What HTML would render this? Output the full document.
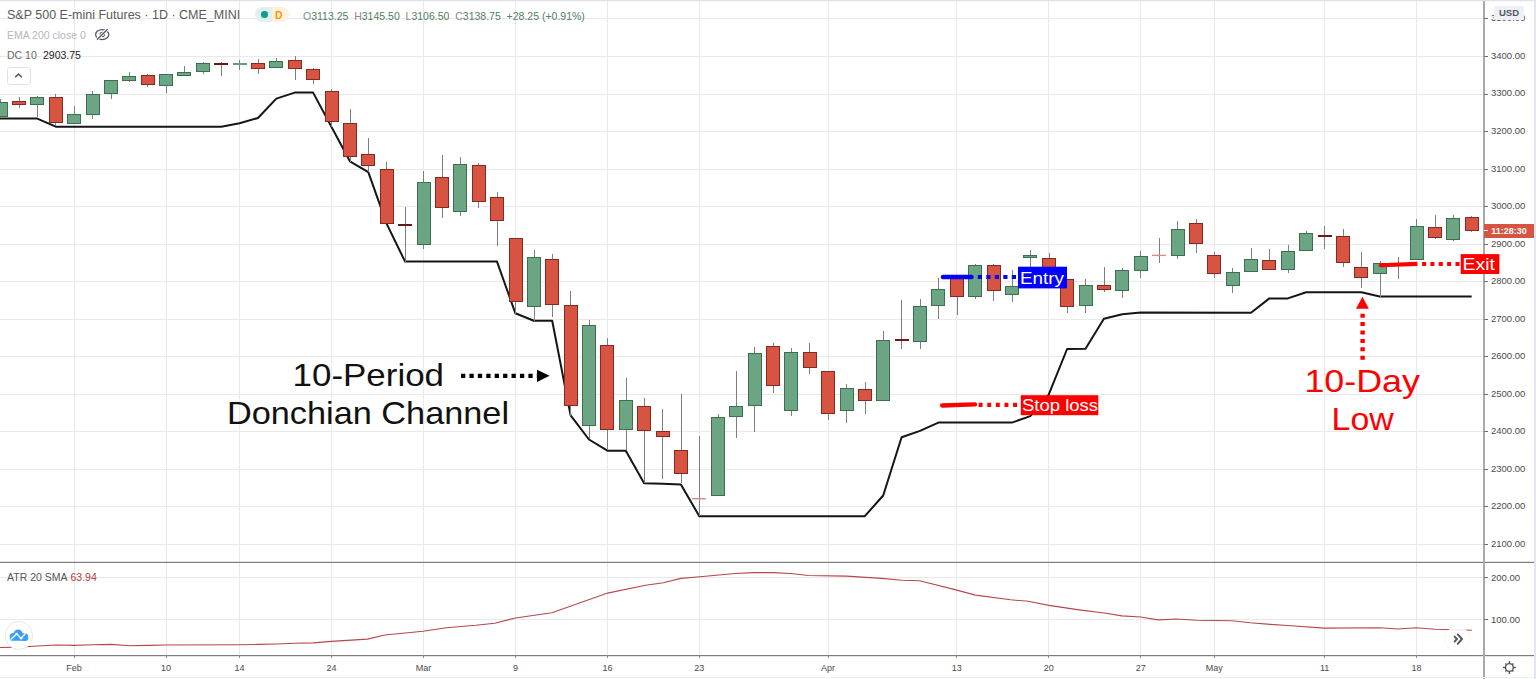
<!DOCTYPE html>
<html><head><meta charset="utf-8">
<style>
html,body{margin:0;padding:0;background:#fff;}
body{width:1536px;height:679px;position:relative;overflow:hidden;font-family:"Liberation Sans",sans-serif;}
#chart{position:absolute;left:0;top:0;}
.pl{position:absolute;left:1491px;font-size:9.5px;color:#4a4a4a;height:12px;line-height:12px;white-space:nowrap;}
.tick{position:absolute;left:1484px;width:4px;height:1px;background:#707070;}
.dl{position:absolute;top:662px;width:40px;text-align:center;font-size:9px;color:#4a4a4a;line-height:12px;}
.dtick{position:absolute;top:655px;width:1px;height:3px;background:#8a8a8a;}
.t{position:absolute;white-space:nowrap;}
</style></head><body>
<svg id="chart" width="1536" height="679">
<line x1="0" y1="544.5" x2="1484" y2="544.5" stroke="#e9e9e9" stroke-width="1"/>
<line x1="0" y1="506.5" x2="1484" y2="506.5" stroke="#e9e9e9" stroke-width="1"/>
<line x1="0" y1="469.5" x2="1484" y2="469.5" stroke="#e9e9e9" stroke-width="1"/>
<line x1="0" y1="431.5" x2="1484" y2="431.5" stroke="#e9e9e9" stroke-width="1"/>
<line x1="0" y1="394.5" x2="1484" y2="394.5" stroke="#e9e9e9" stroke-width="1"/>
<line x1="0" y1="356.5" x2="1484" y2="356.5" stroke="#e9e9e9" stroke-width="1"/>
<line x1="0" y1="319.5" x2="1484" y2="319.5" stroke="#e9e9e9" stroke-width="1"/>
<line x1="0" y1="281.5" x2="1484" y2="281.5" stroke="#e9e9e9" stroke-width="1"/>
<line x1="0" y1="244.5" x2="1484" y2="244.5" stroke="#e9e9e9" stroke-width="1"/>
<line x1="0" y1="206.5" x2="1484" y2="206.5" stroke="#e9e9e9" stroke-width="1"/>
<line x1="0" y1="169.5" x2="1484" y2="169.5" stroke="#e9e9e9" stroke-width="1"/>
<line x1="0" y1="131.5" x2="1484" y2="131.5" stroke="#e9e9e9" stroke-width="1"/>
<line x1="0" y1="94.5" x2="1484" y2="94.5" stroke="#e9e9e9" stroke-width="1"/>
<line x1="0" y1="56.5" x2="1484" y2="56.5" stroke="#e9e9e9" stroke-width="1"/>
<line x1="0" y1="18.5" x2="1484" y2="18.5" stroke="#e9e9e9" stroke-width="1"/>
<line x1="0" y1="577.5" x2="1484" y2="577.5" stroke="#e9e9e9" stroke-width="1"/>
<line x1="0" y1="619.5" x2="1484" y2="619.5" stroke="#e9e9e9" stroke-width="1"/>
<line x1="74.5" y1="0" x2="74.5" y2="655" stroke="#e9e9e9" stroke-width="1"/>
<line x1="166.5" y1="0" x2="166.5" y2="655" stroke="#e9e9e9" stroke-width="1"/>
<line x1="239.5" y1="0" x2="239.5" y2="655" stroke="#e9e9e9" stroke-width="1"/>
<line x1="331.5" y1="0" x2="331.5" y2="655" stroke="#e9e9e9" stroke-width="1"/>
<line x1="423.5" y1="0" x2="423.5" y2="655" stroke="#e9e9e9" stroke-width="1"/>
<line x1="515.5" y1="0" x2="515.5" y2="655" stroke="#e9e9e9" stroke-width="1"/>
<line x1="607.5" y1="0" x2="607.5" y2="655" stroke="#e9e9e9" stroke-width="1"/>
<line x1="699.5" y1="0" x2="699.5" y2="655" stroke="#e9e9e9" stroke-width="1"/>
<line x1="828.5" y1="0" x2="828.5" y2="655" stroke="#e9e9e9" stroke-width="1"/>
<line x1="956.5" y1="0" x2="956.5" y2="655" stroke="#e9e9e9" stroke-width="1"/>
<line x1="1048.5" y1="0" x2="1048.5" y2="655" stroke="#e9e9e9" stroke-width="1"/>
<line x1="1140.5" y1="0" x2="1140.5" y2="655" stroke="#e9e9e9" stroke-width="1"/>
<line x1="1214.5" y1="0" x2="1214.5" y2="655" stroke="#e9e9e9" stroke-width="1"/>
<line x1="1324.5" y1="0" x2="1324.5" y2="655" stroke="#e9e9e9" stroke-width="1"/>
<line x1="1416.5" y1="0" x2="1416.5" y2="655" stroke="#e9e9e9" stroke-width="1"/>
<polyline points="-3.0,118.6 18.9,118.6 37.3,118.6 55.7,126.7 221.2,126.7 239.6,123.2 258.0,118.0 276.3,98.6 294.7,92.6 313.1,92.6 349.9,161.3 368.3,172.1 386.7,223.9 405.1,261.6 497.0,261.6 515.4,313.3 533.8,320.8 552.2,320.8 570.6,415.4 589.0,439.5 607.4,450.7 625.8,450.7 644.1,483.3 662.5,483.8 680.9,484.5 699.3,516.2 864.8,516.2 883.2,495.5 901.6,437.3 920.0,430.9 938.4,422.6 1011.9,422.6 1030.3,416.1 1048.7,394.6 1067.1,349.0 1085.5,348.7 1103.9,318.7 1122.3,314.3 1140.7,312.5 1251.0,312.7 1269.4,298.4 1287.8,298.4 1306.2,292.2 1361.4,292.2 1379.7,296.5 1471.7,296.5" fill="none" stroke="#151515" stroke-width="2.0" stroke-linejoin="round"/>
<line x1="0.5" y1="99" x2="0.5" y2="118" stroke="#7e7e82" stroke-width="1"/>
<line x1="19.5" y1="97" x2="19.5" y2="108" stroke="#7e7e82" stroke-width="1"/>
<line x1="37.5" y1="96" x2="37.5" y2="117" stroke="#7e7e82" stroke-width="1"/>
<line x1="55.5" y1="94" x2="55.5" y2="126" stroke="#7e7e82" stroke-width="1"/>
<line x1="74.5" y1="106" x2="74.5" y2="124" stroke="#7e7e82" stroke-width="1"/>
<line x1="92.5" y1="91" x2="92.5" y2="119" stroke="#7e7e82" stroke-width="1"/>
<line x1="111.5" y1="80" x2="111.5" y2="99" stroke="#7e7e82" stroke-width="1"/>
<line x1="129.5" y1="72" x2="129.5" y2="82" stroke="#7e7e82" stroke-width="1"/>
<line x1="147.5" y1="74" x2="147.5" y2="87" stroke="#7e7e82" stroke-width="1"/>
<line x1="166.5" y1="74" x2="166.5" y2="93" stroke="#7e7e82" stroke-width="1"/>
<line x1="184.5" y1="66" x2="184.5" y2="76" stroke="#7e7e82" stroke-width="1"/>
<line x1="203.5" y1="62" x2="203.5" y2="74" stroke="#7e7e82" stroke-width="1"/>
<line x1="221.5" y1="62" x2="221.5" y2="76" stroke="#7e7e82" stroke-width="1"/>
<line x1="239.5" y1="60" x2="239.5" y2="70" stroke="#7e7e82" stroke-width="1"/>
<line x1="258.5" y1="59" x2="258.5" y2="74" stroke="#7e7e82" stroke-width="1"/>
<line x1="276.5" y1="58" x2="276.5" y2="68" stroke="#7e7e82" stroke-width="1"/>
<line x1="295.5" y1="56" x2="295.5" y2="80" stroke="#7e7e82" stroke-width="1"/>
<line x1="313.5" y1="68" x2="313.5" y2="84" stroke="#7e7e82" stroke-width="1"/>
<line x1="331.5" y1="89" x2="331.5" y2="127" stroke="#7e7e82" stroke-width="1"/>
<line x1="350.5" y1="109" x2="350.5" y2="162" stroke="#7e7e82" stroke-width="1"/>
<line x1="368.5" y1="138" x2="368.5" y2="172" stroke="#7e7e82" stroke-width="1"/>
<line x1="386.5" y1="162" x2="386.5" y2="224" stroke="#7e7e82" stroke-width="1"/>
<line x1="405.5" y1="207" x2="405.5" y2="262" stroke="#7e7e82" stroke-width="1"/>
<line x1="423.5" y1="171" x2="423.5" y2="249" stroke="#7e7e82" stroke-width="1"/>
<line x1="442.5" y1="155" x2="442.5" y2="218" stroke="#7e7e82" stroke-width="1"/>
<line x1="460.5" y1="157" x2="460.5" y2="216" stroke="#7e7e82" stroke-width="1"/>
<line x1="478.5" y1="163" x2="478.5" y2="208" stroke="#7e7e82" stroke-width="1"/>
<line x1="497.5" y1="192" x2="497.5" y2="246" stroke="#7e7e82" stroke-width="1"/>
<line x1="515.5" y1="238" x2="515.5" y2="314" stroke="#7e7e82" stroke-width="1"/>
<line x1="534.5" y1="250" x2="534.5" y2="321" stroke="#7e7e82" stroke-width="1"/>
<line x1="552.5" y1="254" x2="552.5" y2="317" stroke="#7e7e82" stroke-width="1"/>
<line x1="570.5" y1="291" x2="570.5" y2="416" stroke="#7e7e82" stroke-width="1"/>
<line x1="589.5" y1="320" x2="589.5" y2="439" stroke="#7e7e82" stroke-width="1"/>
<line x1="607.5" y1="338" x2="607.5" y2="450" stroke="#7e7e82" stroke-width="1"/>
<line x1="626.5" y1="378" x2="626.5" y2="450" stroke="#7e7e82" stroke-width="1"/>
<line x1="644.5" y1="398" x2="644.5" y2="483" stroke="#7e7e82" stroke-width="1"/>
<line x1="662.5" y1="409" x2="662.5" y2="479" stroke="#7e7e82" stroke-width="1"/>
<line x1="681.5" y1="394" x2="681.5" y2="483" stroke="#7e7e82" stroke-width="1"/>
<line x1="699.5" y1="436" x2="699.5" y2="516" stroke="#7e7e82" stroke-width="1"/>
<line x1="718.5" y1="414" x2="718.5" y2="495" stroke="#7e7e82" stroke-width="1"/>
<line x1="736.5" y1="371" x2="736.5" y2="438" stroke="#7e7e82" stroke-width="1"/>
<line x1="754.5" y1="347" x2="754.5" y2="432" stroke="#7e7e82" stroke-width="1"/>
<line x1="773.5" y1="343" x2="773.5" y2="393" stroke="#7e7e82" stroke-width="1"/>
<line x1="791.5" y1="348" x2="791.5" y2="416" stroke="#7e7e82" stroke-width="1"/>
<line x1="809.5" y1="343" x2="809.5" y2="374" stroke="#7e7e82" stroke-width="1"/>
<line x1="828.5" y1="371" x2="828.5" y2="420" stroke="#7e7e82" stroke-width="1"/>
<line x1="846.5" y1="384" x2="846.5" y2="423" stroke="#7e7e82" stroke-width="1"/>
<line x1="865.5" y1="382" x2="865.5" y2="414" stroke="#7e7e82" stroke-width="1"/>
<line x1="883.5" y1="331" x2="883.5" y2="400" stroke="#7e7e82" stroke-width="1"/>
<line x1="901.5" y1="300" x2="901.5" y2="349" stroke="#7e7e82" stroke-width="1"/>
<line x1="920.5" y1="299" x2="920.5" y2="349" stroke="#7e7e82" stroke-width="1"/>
<line x1="938.5" y1="278" x2="938.5" y2="319" stroke="#7e7e82" stroke-width="1"/>
<line x1="957.5" y1="277" x2="957.5" y2="315" stroke="#7e7e82" stroke-width="1"/>
<line x1="975.5" y1="264" x2="975.5" y2="299" stroke="#7e7e82" stroke-width="1"/>
<line x1="993.5" y1="264" x2="993.5" y2="301" stroke="#7e7e82" stroke-width="1"/>
<line x1="1012.5" y1="270" x2="1012.5" y2="302" stroke="#7e7e82" stroke-width="1"/>
<line x1="1030.5" y1="250" x2="1030.5" y2="267" stroke="#7e7e82" stroke-width="1"/>
<line x1="1049.5" y1="253" x2="1049.5" y2="286" stroke="#7e7e82" stroke-width="1"/>
<line x1="1067.5" y1="279" x2="1067.5" y2="313" stroke="#7e7e82" stroke-width="1"/>
<line x1="1085.5" y1="279" x2="1085.5" y2="313" stroke="#7e7e82" stroke-width="1"/>
<line x1="1104.5" y1="267" x2="1104.5" y2="292" stroke="#7e7e82" stroke-width="1"/>
<line x1="1122.5" y1="268" x2="1122.5" y2="298" stroke="#7e7e82" stroke-width="1"/>
<line x1="1140.5" y1="251" x2="1140.5" y2="278" stroke="#7e7e82" stroke-width="1"/>
<line x1="1159.5" y1="238" x2="1159.5" y2="263" stroke="#7e7e82" stroke-width="1"/>
<line x1="1177.5" y1="221" x2="1177.5" y2="259" stroke="#7e7e82" stroke-width="1"/>
<line x1="1196.5" y1="219" x2="1196.5" y2="253" stroke="#7e7e82" stroke-width="1"/>
<line x1="1214.5" y1="252" x2="1214.5" y2="278" stroke="#7e7e82" stroke-width="1"/>
<line x1="1232.5" y1="268" x2="1232.5" y2="293" stroke="#7e7e82" stroke-width="1"/>
<line x1="1251.5" y1="248" x2="1251.5" y2="272" stroke="#7e7e82" stroke-width="1"/>
<line x1="1269.5" y1="249" x2="1269.5" y2="269" stroke="#7e7e82" stroke-width="1"/>
<line x1="1288.5" y1="245" x2="1288.5" y2="273" stroke="#7e7e82" stroke-width="1"/>
<line x1="1306.5" y1="231" x2="1306.5" y2="251" stroke="#7e7e82" stroke-width="1"/>
<line x1="1324.5" y1="226" x2="1324.5" y2="249" stroke="#7e7e82" stroke-width="1"/>
<line x1="1343.5" y1="229" x2="1343.5" y2="267" stroke="#7e7e82" stroke-width="1"/>
<line x1="1361.5" y1="252" x2="1361.5" y2="288" stroke="#7e7e82" stroke-width="1"/>
<line x1="1380.5" y1="261" x2="1380.5" y2="297" stroke="#7e7e82" stroke-width="1"/>
<line x1="1398.5" y1="257" x2="1398.5" y2="279" stroke="#7e7e82" stroke-width="1"/>
<line x1="1416.5" y1="219" x2="1416.5" y2="260" stroke="#7e7e82" stroke-width="1"/>
<line x1="1435.5" y1="215" x2="1435.5" y2="239" stroke="#7e7e82" stroke-width="1"/>
<line x1="1453.5" y1="215" x2="1453.5" y2="241" stroke="#7e7e82" stroke-width="1"/>
<line x1="1471.5" y1="216" x2="1471.5" y2="232" stroke="#7e7e82" stroke-width="1"/>
<rect x="-5.5" y="102.5" width="13" height="14" fill="#6ba583" stroke="#3b6f4d" stroke-width="1"/>
<rect x="12.5" y="101.5" width="13" height="3" fill="#d75442" stroke="#852a1f" stroke-width="1"/>
<rect x="30.5" y="97.5" width="13" height="7" fill="#6ba583" stroke="#3b6f4d" stroke-width="1"/>
<rect x="49.5" y="97.5" width="13" height="25" fill="#d75442" stroke="#852a1f" stroke-width="1"/>
<rect x="67.5" y="114.5" width="13" height="9" fill="#6ba583" stroke="#3b6f4d" stroke-width="1"/>
<rect x="86.5" y="94.5" width="13" height="20" fill="#6ba583" stroke="#3b6f4d" stroke-width="1"/>
<rect x="104.5" y="80.5" width="13" height="13" fill="#6ba583" stroke="#3b6f4d" stroke-width="1"/>
<rect x="122.5" y="76.5" width="13" height="4" fill="#6ba583" stroke="#3b6f4d" stroke-width="1"/>
<rect x="141.5" y="75.5" width="13" height="9" fill="#d75442" stroke="#852a1f" stroke-width="1"/>
<rect x="159.5" y="74.5" width="13" height="11" fill="#6ba583" stroke="#3b6f4d" stroke-width="1"/>
<rect x="177.5" y="72.5" width="13" height="3" fill="#6ba583" stroke="#3b6f4d" stroke-width="1"/>
<rect x="196.5" y="63.5" width="13" height="8" fill="#6ba583" stroke="#3b6f4d" stroke-width="1"/>
<rect x="214" y="63" width="14" height="2" fill="#6b1a13"/>
<rect x="233" y="63" width="14" height="2" fill="#6a9c7c"/>
<rect x="251.5" y="63.5" width="13" height="5" fill="#d75442" stroke="#852a1f" stroke-width="1"/>
<rect x="269.5" y="61.5" width="13" height="6" fill="#6ba583" stroke="#3b6f4d" stroke-width="1"/>
<rect x="288.5" y="60.5" width="13" height="8" fill="#d75442" stroke="#852a1f" stroke-width="1"/>
<rect x="306.5" y="69.5" width="13" height="10" fill="#d75442" stroke="#852a1f" stroke-width="1"/>
<rect x="325.5" y="91.5" width="13" height="30" fill="#d75442" stroke="#852a1f" stroke-width="1"/>
<rect x="343.5" y="123.5" width="13" height="33" fill="#d75442" stroke="#852a1f" stroke-width="1"/>
<rect x="361.5" y="154.5" width="13" height="11" fill="#d75442" stroke="#852a1f" stroke-width="1"/>
<rect x="380.5" y="169.5" width="13" height="54" fill="#d75442" stroke="#852a1f" stroke-width="1"/>
<rect x="398" y="224" width="14" height="2" fill="#6b1a13"/>
<rect x="417.5" y="182.5" width="13" height="62" fill="#6ba583" stroke="#3b6f4d" stroke-width="1"/>
<rect x="435.5" y="177.5" width="13" height="30" fill="#d75442" stroke="#852a1f" stroke-width="1"/>
<rect x="453.5" y="164.5" width="13" height="47" fill="#6ba583" stroke="#3b6f4d" stroke-width="1"/>
<rect x="472.5" y="165.5" width="13" height="36" fill="#d75442" stroke="#852a1f" stroke-width="1"/>
<rect x="490.5" y="197.5" width="13" height="23" fill="#d75442" stroke="#852a1f" stroke-width="1"/>
<rect x="509.5" y="238.5" width="13" height="63" fill="#d75442" stroke="#852a1f" stroke-width="1"/>
<rect x="527.5" y="257.5" width="13" height="49" fill="#6ba583" stroke="#3b6f4d" stroke-width="1"/>
<rect x="545.5" y="259.5" width="13" height="45" fill="#d75442" stroke="#852a1f" stroke-width="1"/>
<rect x="564.5" y="305.5" width="13" height="100" fill="#d75442" stroke="#852a1f" stroke-width="1"/>
<rect x="582.5" y="325.5" width="13" height="100" fill="#6ba583" stroke="#3b6f4d" stroke-width="1"/>
<rect x="600.5" y="345.5" width="13" height="84" fill="#d75442" stroke="#852a1f" stroke-width="1"/>
<rect x="619.5" y="400.5" width="13" height="29" fill="#6ba583" stroke="#3b6f4d" stroke-width="1"/>
<rect x="637.5" y="406.5" width="13" height="24" fill="#d75442" stroke="#852a1f" stroke-width="1"/>
<rect x="656.5" y="431.5" width="13" height="5" fill="#d75442" stroke="#852a1f" stroke-width="1"/>
<rect x="674.5" y="450.5" width="13" height="23" fill="#d75442" stroke="#852a1f" stroke-width="1"/>
<rect x="692" y="498.0" width="14" height="1.4" fill="#d29088"/>
<rect x="711.5" y="417.5" width="13" height="78" fill="#6ba583" stroke="#3b6f4d" stroke-width="1"/>
<rect x="729.5" y="406.5" width="13" height="10" fill="#6ba583" stroke="#3b6f4d" stroke-width="1"/>
<rect x="748.5" y="353.5" width="13" height="52" fill="#6ba583" stroke="#3b6f4d" stroke-width="1"/>
<rect x="766.5" y="346.5" width="13" height="39" fill="#d75442" stroke="#852a1f" stroke-width="1"/>
<rect x="784.5" y="352.5" width="13" height="58" fill="#6ba583" stroke="#3b6f4d" stroke-width="1"/>
<rect x="803.5" y="352.5" width="13" height="15" fill="#d75442" stroke="#852a1f" stroke-width="1"/>
<rect x="821.5" y="371.5" width="13" height="42" fill="#d75442" stroke="#852a1f" stroke-width="1"/>
<rect x="840.5" y="388.5" width="13" height="22" fill="#6ba583" stroke="#3b6f4d" stroke-width="1"/>
<rect x="858.5" y="389.5" width="13" height="11" fill="#d75442" stroke="#852a1f" stroke-width="1"/>
<rect x="876.5" y="340.5" width="13" height="60" fill="#6ba583" stroke="#3b6f4d" stroke-width="1"/>
<rect x="895" y="339" width="14" height="2" fill="#6b1a13"/>
<rect x="913.5" y="306.5" width="13" height="35" fill="#6ba583" stroke="#3b6f4d" stroke-width="1"/>
<rect x="931.5" y="289.5" width="13" height="16" fill="#6ba583" stroke="#3b6f4d" stroke-width="1"/>
<rect x="950.5" y="277.5" width="13" height="19" fill="#d75442" stroke="#852a1f" stroke-width="1"/>
<rect x="968.5" y="265.5" width="13" height="31" fill="#6ba583" stroke="#3b6f4d" stroke-width="1"/>
<rect x="987.5" y="265.5" width="13" height="25" fill="#d75442" stroke="#852a1f" stroke-width="1"/>
<rect x="1005.5" y="286.5" width="13" height="8" fill="#6ba583" stroke="#3b6f4d" stroke-width="1"/>
<rect x="1023.5" y="255.5" width="13" height="2" fill="#6ba583" stroke="#3b6f4d" stroke-width="1"/>
<rect x="1042.5" y="258.5" width="13" height="22" fill="#d75442" stroke="#852a1f" stroke-width="1"/>
<rect x="1060.5" y="279.5" width="13" height="27" fill="#d75442" stroke="#852a1f" stroke-width="1"/>
<rect x="1079.5" y="285.5" width="13" height="20" fill="#6ba583" stroke="#3b6f4d" stroke-width="1"/>
<rect x="1097.5" y="285.5" width="13" height="4" fill="#d75442" stroke="#852a1f" stroke-width="1"/>
<rect x="1115.5" y="270.5" width="13" height="20" fill="#6ba583" stroke="#3b6f4d" stroke-width="1"/>
<rect x="1134.5" y="256.5" width="13" height="14" fill="#6ba583" stroke="#3b6f4d" stroke-width="1"/>
<rect x="1152" y="254.7" width="14" height="1.4" fill="#d29088"/>
<rect x="1171.5" y="229.5" width="13" height="26" fill="#6ba583" stroke="#3b6f4d" stroke-width="1"/>
<rect x="1189.5" y="223.5" width="13" height="20" fill="#d75442" stroke="#852a1f" stroke-width="1"/>
<rect x="1207.5" y="255.5" width="13" height="18" fill="#d75442" stroke="#852a1f" stroke-width="1"/>
<rect x="1226.5" y="272.5" width="13" height="13" fill="#6ba583" stroke="#3b6f4d" stroke-width="1"/>
<rect x="1244.5" y="259.5" width="13" height="12" fill="#6ba583" stroke="#3b6f4d" stroke-width="1"/>
<rect x="1262.5" y="260.5" width="13" height="9" fill="#d75442" stroke="#852a1f" stroke-width="1"/>
<rect x="1281.5" y="251.5" width="13" height="18" fill="#6ba583" stroke="#3b6f4d" stroke-width="1"/>
<rect x="1299.5" y="233.5" width="13" height="17" fill="#6ba583" stroke="#3b6f4d" stroke-width="1"/>
<rect x="1318" y="235" width="14" height="2" fill="#6b1a13"/>
<rect x="1336.5" y="236.5" width="13" height="26" fill="#d75442" stroke="#852a1f" stroke-width="1"/>
<rect x="1354.5" y="267.5" width="13" height="10" fill="#d75442" stroke="#852a1f" stroke-width="1"/>
<rect x="1373.5" y="263.5" width="13" height="10" fill="#6ba583" stroke="#3b6f4d" stroke-width="1"/>
<rect x="1391" y="263" width="14" height="2" fill="#6a9c7c"/>
<rect x="1410.5" y="226.5" width="13" height="33" fill="#6ba583" stroke="#3b6f4d" stroke-width="1"/>
<rect x="1428.5" y="227.5" width="13" height="10" fill="#d75442" stroke="#852a1f" stroke-width="1"/>
<rect x="1446.5" y="218.5" width="13" height="21" fill="#6ba583" stroke="#3b6f4d" stroke-width="1"/>
<rect x="1465.5" y="217.5" width="13" height="13" fill="#d75442" stroke="#852a1f" stroke-width="1"/>
<polyline points="0.0,647.5 18.8,647.1 37.5,646.0 56.3,645.0 74.0,645.4 92.7,644.8 111.5,644.4 129.2,645.8 147.9,645.4 166.7,645.0 239.6,644.8 258.3,644.4 277.0,644.0 295.8,643.3 313.2,642.9 331.4,641.4 367.4,639.1 385.0,635.0 423.0,631.2 446.5,627.7 475.8,625.3 494.8,623.3 515.4,618.0 552.0,612.7 607.6,593.1 645.7,585.2 663.3,582.8 680.9,578.4 700.0,576.7 735.2,573.5 754.2,572.6 773.2,572.6 790.8,573.5 808.4,575.5 846.5,576.1 881.7,578.4 902.2,580.2 919.7,580.8 954.9,589.6 975.4,595.1 1010.6,599.8 1028.2,601.3 1048.7,605.4 1080.9,610.1 1104.3,613.0 1121.9,615.9 1140.6,617.0 1158.2,619.9 1176.6,619.0 1196.5,620.2 1232.0,620.7 1250.4,622.7 1270.3,624.4 1287.3,625.5 1324.2,628.1 1379.6,627.8 1398.0,629.0 1416.0,627.8 1435.0,629.2 1452.0,629.8 1472.0,630.2" fill="none" stroke="#b7474a" stroke-width="1.1"/>
<!-- pane dividers -->
<rect x="0" y="561.8" width="1536" height="1.2" fill="#7d7d7d"/>
<rect x="0" y="655" width="1536" height="1.2" fill="#7d7d7d"/>
<rect x="1483" y="0" width="2" height="679" fill="#a9a9a9"/>
<!-- borders -->
<rect x="0" y="0" width="1536" height="1.2" fill="#dfe1ee"/>
<rect x="0" y="677" width="1536" height="1" fill="#eceef5"/>
<rect x="1534" y="0" width="2" height="679" fill="#e3e5f0"/>
</svg>
<div class="pl" style="top:537.9px">2100.00</div><div class="tick" style="top:544px"></div>
<div class="pl" style="top:500.4px">2200.00</div><div class="tick" style="top:506px"></div>
<div class="pl" style="top:462.8px">2300.00</div><div class="tick" style="top:469px"></div>
<div class="pl" style="top:425.3px">2400.00</div><div class="tick" style="top:431px"></div>
<div class="pl" style="top:387.7px">2500.00</div><div class="tick" style="top:394px"></div>
<div class="pl" style="top:350.2px">2600.00</div><div class="tick" style="top:356px"></div>
<div class="pl" style="top:312.7px">2700.00</div><div class="tick" style="top:319px"></div>
<div class="pl" style="top:275.1px">2800.00</div><div class="tick" style="top:281px"></div>
<div class="pl" style="top:237.6px">2900.00</div><div class="tick" style="top:244px"></div>
<div class="pl" style="top:200.1px">3000.00</div><div class="tick" style="top:206px"></div>
<div class="pl" style="top:162.5px">3100.00</div><div class="tick" style="top:169px"></div>
<div class="pl" style="top:125.0px">3200.00</div><div class="tick" style="top:131px"></div>
<div class="pl" style="top:87.4px">3300.00</div><div class="tick" style="top:94px"></div>
<div class="pl" style="top:49.9px">3400.00</div><div class="tick" style="top:56px"></div>
<div class="pl" style="top:12.4px">3500.00</div><div class="tick" style="top:18px"></div>
<div class="pl" style="top:571.6px">200.00</div><div class="tick" style="top:577.1px"></div>
<div class="pl" style="top:613.6px">100.00</div><div class="tick" style="top:619.1px"></div>
<div class="dl" style="left:54.0px">Feb</div><div class="dtick" style="left:73.5px"></div>
<div class="dl" style="left:146.0px">10</div><div class="dtick" style="left:165.5px"></div>
<div class="dl" style="left:219.6px">14</div><div class="dtick" style="left:239.1px"></div>
<div class="dl" style="left:311.5px">24</div><div class="dtick" style="left:331.0px"></div>
<div class="dl" style="left:403.5px">Mar</div><div class="dtick" style="left:423.0px"></div>
<div class="dl" style="left:495.4px">9</div><div class="dtick" style="left:514.9px"></div>
<div class="dl" style="left:587.4px">16</div><div class="dtick" style="left:606.9px"></div>
<div class="dl" style="left:679.3px">23</div><div class="dtick" style="left:698.8px"></div>
<div class="dl" style="left:808.0px">Apr</div><div class="dtick" style="left:827.5px"></div>
<div class="dl" style="left:936.8px">13</div><div class="dtick" style="left:956.3px"></div>
<div class="dl" style="left:1028.7px">20</div><div class="dtick" style="left:1048.2px"></div>
<div class="dl" style="left:1120.7px">27</div><div class="dtick" style="left:1140.2px"></div>
<div class="dl" style="left:1194.2px">May</div><div class="dtick" style="left:1213.7px"></div>
<div class="dl" style="left:1304.6px">11</div><div class="dtick" style="left:1324.1px"></div>
<div class="dl" style="left:1396.5px">18</div><div class="dtick" style="left:1416.0px"></div>
<!-- header -->
<div class="t" style="left:7px;top:8.4px;font-size:12.5px;color:#5a5a5a;">S&amp;P 500 E-mini Futures · 1D · CME_MINI</div>
<div class="t" style="left:254.5px;top:6.5px;width:34px;height:15.5px;border-radius:8px;overflow:hidden;">
  <div style="position:absolute;left:0;top:0;width:17px;height:100%;background:#dff1ee;"></div>
  <div style="position:absolute;left:17px;top:0;width:17px;height:100%;background:#fdf1e1;"></div>
  <div style="position:absolute;left:6.5px;top:4.5px;width:6.5px;height:6.5px;border-radius:50%;background:#139c8a;"></div>
  <div style="position:absolute;left:20.5px;top:2px;font-size:10.5px;font-weight:bold;line-height:12px;color:#ff9800;">D</div>
</div>
<div class="t" style="left:303px;top:9.8px;font-size:10.5px;color:#4f8064;"><span style="color:#8a8a8a">O</span>3113.25&nbsp; <span style="color:#8a8a8a">H</span>3145.50&nbsp; <span style="color:#8a8a8a">L</span>3106.50&nbsp; <span style="color:#8a8a8a">C</span>3138.75&nbsp; +28.25 (+0.91%)</div>
<div class="t" style="left:7px;top:28.5px;font-size:10.5px;color:#b4b7c0;">EMA 200 close 0</div>
<svg class="t" style="left:90px;top:24px;" width="25" height="20" viewBox="0 0 25 20">
  <ellipse cx="12.2" cy="10.5" rx="6.6" ry="5.0" fill="none" stroke="#50535e" stroke-width="1.25"/>
  <circle cx="12.3" cy="10.5" r="2.1" fill="none" stroke="#50535e" stroke-width="1.2"/>
  <line x1="7.2" y1="15.4" x2="17.4" y2="5.4" stroke="#fff" stroke-width="3"/>
  <line x1="7.4" y1="15.3" x2="17.3" y2="5.5" stroke="#50535e" stroke-width="1.25" stroke-linecap="round"/>
</svg>
<div class="t" style="left:7px;top:49px;font-size:10.5px;color:#666;">DC 10</div>
<div class="t" style="left:43px;top:49px;font-size:10.5px;color:#222;">2903.75</div>
<div class="t" style="left:7px;top:67px;width:22px;height:16px;border:1px solid #e0e3eb;border-radius:3px;background:#fff;"></div>
<svg class="t" style="left:14.3px;top:72.1px;" width="9" height="7" viewBox="0 0 9 7"><path d="M1.2 5.2 L4.5 2 L7.8 5.2" fill="none" stroke="#50535e" stroke-width="1.6"/></svg>
<!-- USD -->
<div class="t" style="left:1494px;top:6px;width:30px;height:13.5px;background:#eef0f8;border-radius:2px;font-size:9.5px;font-weight:bold;line-height:13.5px;text-align:center;color:#50535e;">USD</div>
<!-- countdown -->
<div class="t" style="left:1484px;top:223.5px;width:50px;height:14px;background:#d75442;color:#fff;font-size:9px;font-weight:bold;line-height:14px;text-align:center;">11:28:30</div>
<div class="t" style="left:1484px;top:230px;width:4px;height:1px;background:#fff;"></div>
<!-- ATR -->
<div class="t" style="left:7px;top:571px;font-size:10.5px;color:#555;">ATR 20 SMA</div>
<div class="t" style="left:70.5px;top:571px;font-size:10.5px;color:#b23c3c;">63.94</div>
<!-- logo button -->
<div class="t" style="left:4.7px;top:621.4px;width:26.4px;height:26.4px;border-radius:50%;background:#fff;border:1px solid #e8e8e8;"></div>
<svg class="t" style="left:0;top:600px;" width="40" height="60" viewBox="0 600 40 60">
  <g fill="#3a9ff0">
    <rect x="9.8" y="635.5" width="18.4" height="5.3" rx="2.4"/>
    <circle cx="13.4" cy="636.6" r="3.6"/>
    <circle cx="18.1" cy="634.3" r="4.7"/>
    <circle cx="24.3" cy="637" r="3.9"/>
  </g>
  <polyline points="10.6,639.4 16.6,633.9 21.1,638.2 25.6,633.2" fill="none" stroke="#fff" stroke-width="1.3" stroke-linejoin="round"/>
  <circle cx="16.6" cy="633.9" r="1.2" fill="#fff"/>
  <circle cx="21.1" cy="638.2" r="1.2" fill="#fff"/>
</svg>
<!-- >> button -->
<div class="t" style="left:1444.9px;top:625.8px;width:25.2px;height:25.2px;border-radius:50%;background:rgba(255,255,255,0.85);box-shadow:0 0 1.5px rgba(0,0,0,0.12);"></div>
<svg class="t" style="left:1440px;top:620px;" width="36" height="36" viewBox="1440 620 36 36">
  <path d="M1454.6 636.6 L1457 639 L1454.6 641.6" fill="none" stroke="#50535e" stroke-width="1.9" stroke-linecap="round" stroke-linejoin="round"/>
  <path d="M1457.7 634.4 L1462 639 L1457.7 643.8" fill="none" stroke="#50535e" stroke-width="1.9" stroke-linecap="round" stroke-linejoin="round"/>
</svg>
<!-- gear -->
<svg class="t" style="left:1496px;top:656px;" width="28" height="23" viewBox="1496 656 28 23">
  <circle cx="1509.4" cy="667.5" r="3.9" fill="none" stroke="#50535e" stroke-width="1.4"/>
  <path d="M1509.4 661.1 V663.4 M1509.4 671.6 V673.9 M1503 667.5 H1505.3 M1513.5 667.5 H1515.8 M1505.4 663.5 L1506.6 664.7 M1512.2 670.3 L1513.4 671.5 M1505.4 671.5 L1506.6 670.3 M1512.2 664.7 L1513.4 663.5" stroke="#50535e" stroke-width="1.4"/>
</svg>

<!-- annotations -->
<svg class="t" style="left:0;top:0;" width="1536" height="679" font-family="Liberation Sans, sans-serif">
  <text x="292.6" y="385.9" font-size="31.5" fill="#111" textLength="151.4" lengthAdjust="spacingAndGlyphs">10-Period</text>
  <text x="227" y="424.1" font-size="31.5" fill="#111" textLength="282" lengthAdjust="spacingAndGlyphs">Donchian Channel</text>
  <line x1="461" y1="375.8" x2="537" y2="375.8" stroke="#000" stroke-width="4.3" stroke-dasharray="4.3 4.12"/>
  <path d="M537 369.7 L549.6 375.8 L537 381.9 Z" fill="#000"/>
  <!-- entry -->
  <line x1="943" y1="277" x2="971.5" y2="277" stroke="#0000ff" stroke-width="4.5" stroke-linecap="round"/>
  <line x1="977.8" y1="277" x2="1016.5" y2="277" stroke="#0000ff" stroke-width="4" stroke-dasharray="4.2 4.3"/>
  <!-- stop -->
  <line x1="942.2" y1="405.5" x2="975" y2="404.4" stroke="#ff0000" stroke-width="4.4" stroke-linecap="round"/>
  <line x1="978.7" y1="404.9" x2="1017.5" y2="404.9" stroke="#ff0000" stroke-width="4.2" stroke-dasharray="3.9 4.7"/>
  <!-- exit -->
  <line x1="1380.7" y1="265.3" x2="1417.4" y2="263.9" stroke="#ff0000" stroke-width="4.1"/><circle cx="1380.7" cy="265.3" r="2.05" fill="#ff0000"/>
  <line x1="1422.1" y1="264.1" x2="1460" y2="264.1" stroke="#ff0000" stroke-width="4" stroke-dasharray="4 4.35"/>
  <!-- up arrow -->
  <path d="M1362.4 296.8 L1356 308.8 L1368.9 308.8 Z" fill="#ff0000"/>
  <line x1="1362.6" y1="313.7" x2="1362.6" y2="360.1" stroke="#ff0000" stroke-width="4.4" stroke-dasharray="4 4.4"/>
  <rect x="1018" y="266.7" width="49" height="21.7" fill="#0000ff"/>
  <text x="1020" y="283.9" font-size="16.5" fill="#fff" textLength="44" lengthAdjust="spacingAndGlyphs">Entry</text>
  <rect x="1020.8" y="395.2" width="77.5" height="20" fill="#ff0000"/>
  <text x="1022" y="410.5" font-size="16.5" fill="#fff" textLength="76" lengthAdjust="spacingAndGlyphs">Stop loss</text>
  <rect x="1460.7" y="254.1" width="38.7" height="19.9" fill="#ff0000"/>
  <text x="1462.6" y="269.9" font-size="16.5" fill="#fff" textLength="32.4" lengthAdjust="spacingAndGlyphs">Exit</text>
  <text x="1304.4" y="391.8" font-size="30.5" fill="#ff0000" textLength="115.6" lengthAdjust="spacingAndGlyphs">10-Day</text>
  <text x="1331.6" y="430" font-size="30.5" fill="#ff0000" textLength="62.2" lengthAdjust="spacingAndGlyphs">Low</text>
</svg>
</body></html>
